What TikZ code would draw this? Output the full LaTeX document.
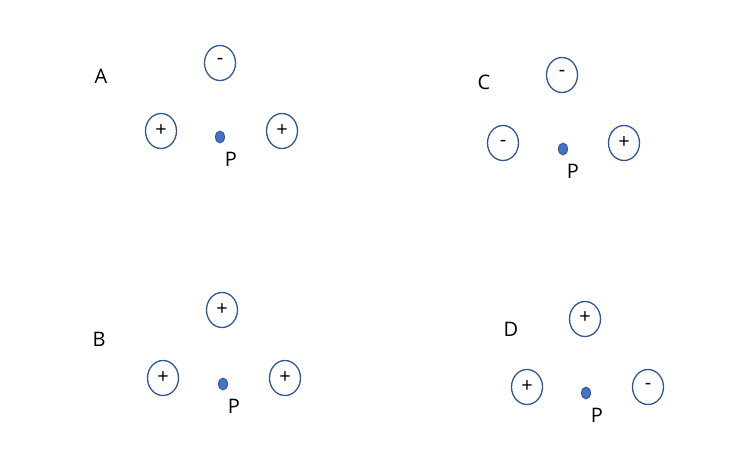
\documentclass[tikz,border=0pt]{standalone}
\usepackage{fontspec}
\setmainfont{Open Sans}
\usetikzlibrary{shapes.geometric}
\definecolor{ring}{HTML}{2F5597}
\definecolor{dotc}{HTML}{4472C4}
\tikzset{
  charge/.style={ellipse,draw=ring,line width=1.3pt,minimum width=31pt,minimum height=35pt,inner sep=0pt,font=\fontsize{20}{20}\selectfont},
  pt/.style={ellipse,draw=ring,fill=dotc,line width=0.8pt,minimum width=9pt,minimum height=12pt,inner sep=0pt},
  lbl/.style={font=\fontsize{20}{20}\selectfont}
}
\begin{document}
\begin{tikzpicture}[x=1pt,y=-1pt]
\useasboundingbox (0,0) rectangle (744,470);
% A
\node[lbl] (la) at (101,76) {A};
\node[charge] (a1) at (220,63) {\raisebox{4pt}{-}};
\node[charge] (a2) at (161,131) {\raisebox{-1pt}{+}};
\node[charge] (a3) at (282,131) {\raisebox{-1pt}{+}};
\node[pt] (ap) at (220,137) {};
\node[lbl] (apl) at (231,159) {P};
% C
\node[lbl] (lc) at (484,82) {C};
\node[charge] (c1) at (562,75) {\raisebox{4pt}{-}};
\node[charge] (c2) at (503,143) {\raisebox{0pt}{-}};
\node[charge] (c3) at (624,143) {\raisebox{-1pt}{+}};
\node[pt] (cp) at (563,149) {};
\node[lbl] (cpl) at (573,171) {P};
% B
\node[lbl] (lb) at (99,339) {B};
\node[charge] (b1) at (222,310) {\raisebox{1pt}{+}};
\node[charge] (b2) at (163,378) {\raisebox{-1pt}{+}};
\node[charge] (b3) at (285,378) {\raisebox{-1pt}{+}};
\node[pt] (bp) at (223,384) {};
\node[lbl] (bpl) at (234,406) {P};
% D
\node[lbl] (ld) at (511,329) {D};
\node[charge] (d1) at (585,319) {\raisebox{2pt}{+}};
\node[charge] (d2) at (527,387) {\raisebox{-1pt}{+}};
\node[charge] (d3) at (648,387) {\raisebox{1pt}{-}};
\node[pt] (dp) at (586,393) {};
\node[lbl] (dpl) at (597,415) {P};
\end{tikzpicture}
\end{document}
